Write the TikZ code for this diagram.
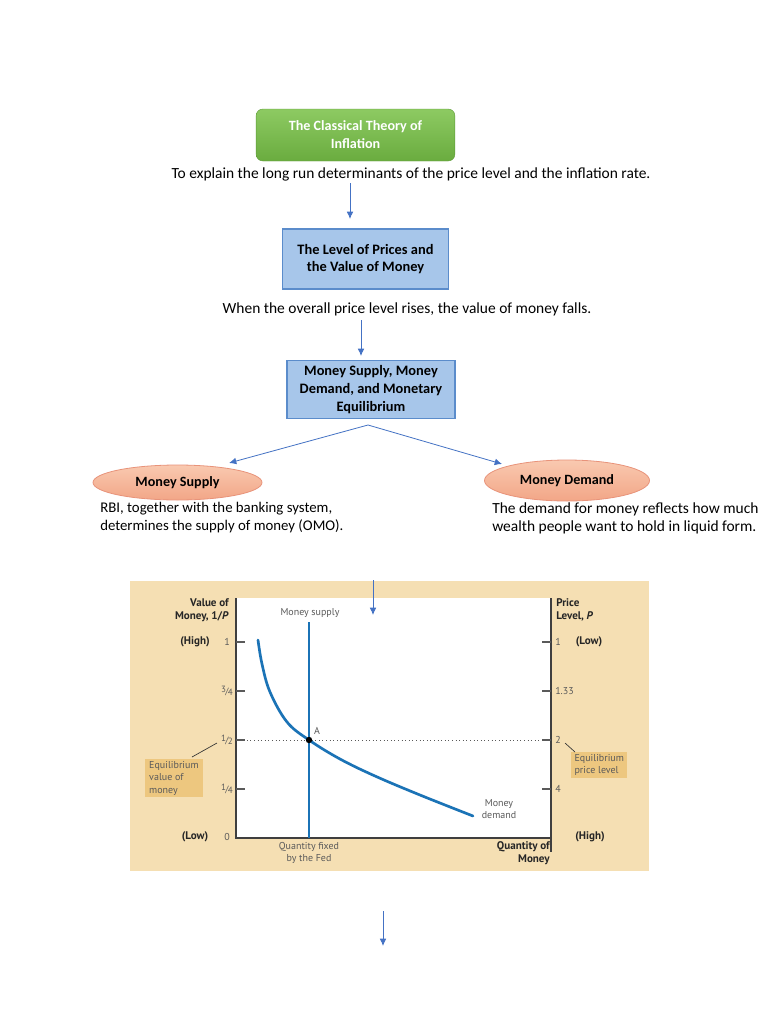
\documentclass[tikz,border=0pt]{standalone}
\usepackage{fontspec}
\setmainfont{Carlito}
\newfontfamily\graphfont{PT Sans}
\usetikzlibrary{arrows.meta,shapes.geometric}
\definecolor{arrowblue}{HTML}{4472C4}
\definecolor{greentop}{HTML}{8DCA62}
\definecolor{greenbot}{HTML}{6AAC3F}
\definecolor{boxblue}{HTML}{A7C6EA}
\definecolor{boxborder}{HTML}{5B8CCB}
\definecolor{salmontop}{HTML}{F9C9B0}
\definecolor{salmonbot}{HTML}{F2A687}
\definecolor{salmonborder}{HTML}{E8937A}
\definecolor{panel}{HTML}{F5DFB3}
\definecolor{eqbox}{HTML}{EDC77F}
\definecolor{curveblue}{HTML}{1B73B6}
\definecolor{graytext}{HTML}{5A5A5A}
\tikzset{
  flow/.style={draw=arrowblue, line width=0.6pt, -{Latex[length=5.5pt,width=5pt]}},
  body/.style={font=\fontsize{11.6}{13.5}\selectfont, inner sep=0pt},
  greenbox/.style={rounded corners=5pt, top color=greentop, bottom color=greenbot, draw=greenbot!90!black, line width=0.3pt,
    minimum width=149pt, minimum height=39pt, text=white, align=center, font=\fontsize{10.6}{13.5}\selectfont\bfseries},
  bluebox/.style={fill=boxblue, draw=boxborder, line width=0.9pt, align=center, font=\fontsize{10.8}{13.2}\selectfont\bfseries},
  oval/.style={ellipse, inner sep=0pt, top color=salmontop, bottom color=salmonbot, draw=salmonborder, line width=0.6pt, font=\fontsize{10.6}{12}\selectfont\bfseries},
  glab/.style={font=\graphfont\fontsize{7.5}{9.6}\selectfont, text=graytext, inner sep=0pt},
  gbold/.style={font=\graphfont\fontsize{8.3}{10}\selectfont\bfseries, text=black!85, inner sep=0pt},
  tick/.style={draw=graytext, line width=0.8pt},
  eq/.style={fill=eqbox, font=\graphfont\fontsize{7.5}{9.4}\selectfont, text=graytext, align=left, inner sep=1.5pt},
}
\begin{document}
\begin{tikzpicture}[x=0.75pt,y=-0.75pt]
\useasboundingbox (0,0) rectangle (768,1024);
\fill[white] (0,0) rectangle (768,1024);

% top section
\node[greenbox] (classical) at (355.5,135) {The Classical Theory of\\Inflation};
\node[body] (explain) at (411,174) {To explain the long run determinants of the price level and the inflation rate.};
\coordinate (a1s) at (350,183);
\coordinate (a1e) at (350,219);
\draw[flow] (a1s) -- (a1e);

\node[bluebox, minimum width=125pt, minimum height=45pt] (level) at (365.5,259) {The Level of Prices and\\the Value of Money};
\node[body] (when) at (407,309) {When the overall price level rises, the value of money falls.};
\coordinate (a2s) at (361,320);
\coordinate (a2e) at (361,356);
\draw[flow] (a2s) -- (a2e);

\node[bluebox, minimum width=126pt, minimum height=44pt] (equil) at (371,389.5) {Money Supply, Money\\Demand, and Monetary\\Equilibrium};

\coordinate (split) at (368,425);
\coordinate (lefttip) at (229,463);
\coordinate (righttip) at (502,464);
\draw[flow] (split) -- (lefttip);
\draw[flow] (split) -- (righttip);

\node[oval, minimum width=126.75pt, minimum height=26.25pt] (supply) at (177.5,482.5) {Money Supply};
\node[oval, minimum width=123.75pt, minimum height=30.75pt] (demand) at (567,480.5) {Money Demand};

\node[body, anchor=west, align=left, font=\fontsize{11.1}{13.5}\selectfont] (supplytxt) at (100,518) {RBI, together with the banking system,\\determines the supply of money (OMO).};
\node[body, anchor=west, align=left] (demandtxt) at (492,518.5) {The demand for money reflects how much\\wealth people want to hold in liquid form.};

% graph panel
\fill[panel] (130,581) rectangle (649,871);
\fill[white] (236,598) rectangle (551,838);
\draw[graytext!70!black, line width=0.9pt] (236,598) -- (236,838) -- (551,838);
\draw[graytext!70!black, line width=0.9pt] (551,598) -- (551,852);

% ticks left
\foreach \yy in {642,691,740,789}{
  \draw[tick] (236,\yy) -- (245,\yy);
}
\node[glab] (l1) at (227,642) {1};
\node[glab] (l34) at (227,691) {\fontsize{6.8}{6.8}\selectfont\raisebox{1.8pt}{3}\kern-0.5pt/\kern-0.5pt\raisebox{-0.5pt}{4}};
\node[glab] (l12) at (227,740) {\fontsize{6.8}{6.8}\selectfont\raisebox{1.8pt}{1}\kern-0.5pt/\kern-0.5pt\raisebox{-0.5pt}{2}};
\node[glab] (l14) at (227,789) {\fontsize{6.8}{6.8}\selectfont\raisebox{1.8pt}{1}\kern-0.5pt/\kern-0.5pt\raisebox{-0.5pt}{4}};
\node[glab] (l0) at (227,837) {0};
\node[gbold] (high) at (195,642) {(High)};
\node[gbold] (low) at (195,837) {(Low)};
\node[gbold, anchor=east, align=right] (vlab) at (229,610) {Value of\\Money, 1/\textit{P}};

% ticks right
\foreach \yy in {642,691,740,789}{
  \draw[tick] (542,\yy) -- (551,\yy);
}
\node[glab, anchor=west] (r1) at (555,642) {1};
\node[glab, anchor=west] (r133) at (555,691) {1.33};
\node[glab, anchor=west] (r2) at (555,740) {2};
\node[glab, anchor=west] (r4) at (555,789) {4};
\node[gbold] (rlow) at (589,642) {(Low)};
\node[gbold] (rhigh) at (590,837) {(High)};
\node[gbold, anchor=west, align=left] (plab) at (556,610) {Price\\Level, \textit{P}};

% dotted equilibrium line
\draw[graytext, line width=0.7pt, dotted] (236,740) -- (542,740);

% money supply
\draw[curveblue, line width=2pt] (309,622) -- (309,838);
\node[glab] (mslab) at (310,613) {Money supply};

% money demand
\draw[curveblue, line width=2pt, line cap=round] plot[smooth, tension=0.6] coordinates {(258,640) (262,664) (270,692) (287,722) (309,740) (340,759) (375,776) (420,795) (473,816)};
\fill[black] (309,740) circle (3.2);
\node[glab] (alab) at (317,731) {A};
\node[glab, align=center] (mdlab) at (499,809) {Money\\demand};

% bottom labels
\node[glab, align=center] (qfix) at (309,853) {Quantity fixed\\by the Fed};
\node[gbold, anchor=east, align=right] (qmoney) at (550,853) {Quantity of\\Money};

% equilibrium boxes
\node[eq, anchor=north west, minimum width=43pt] (eqv) at (145,759) {Equilibrium\\value of\\money};
\draw[black!80, line width=0.5pt] (192,757) -- (217,743);
\node[eq, anchor=north west, minimum width=42pt] (eqp) at (571,752) {Equilibrium\\price level};
\draw[black!80, line width=0.5pt] (565,743) -- (575,752);

% arrows into / below graph
\coordinate (a3s) at (373,580);
\coordinate (a3e) at (373,615);
\draw[flow] (a3s) -- (a3e);
\coordinate (a4s) at (383,911);
\coordinate (a4e) at (383,946);
\draw[flow] (a4s) -- (a4e);
\end{tikzpicture}
\end{document}
